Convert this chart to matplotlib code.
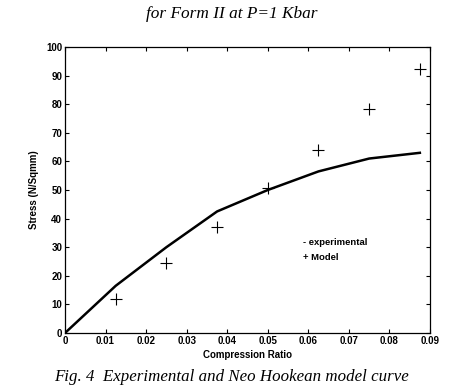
import matplotlib
matplotlib.use("Agg")
import matplotlib.pyplot as plt
import numpy as np

# Data
exp_x = [0.0125, 0.025, 0.0375, 0.05, 0.0625, 0.075, 0.0875]
exp_y = [12, 24.5, 37, 50.7, 64, 78.3, 92.3]
model_x = [0, 0.0125, 0.025, 0.0375, 0.05, 0.0625, 0.075, 0.0875]
model_y = [0, 16.5, 30, 42.5, 50, 56.5, 61, 63]
xticks = [0, 0.01, 0.02, 0.03, 0.04, 0.05, 0.06, 0.07, 0.08, 0.09]
xticklabels = ["0", "0.01", "0.02", "0.03", "0.04", "0.05", "0.06", "0.07", "0.08", "0.09"]
yticks = [0, 10, 20, 30, 40, 50, 60, 70, 80, 90, 100]

fig = plt.figure(figsize=(4.74, 3.86), dpi=100)
ax = fig.add_axes([65/474, 53/386, 365/474, 286/386])

ax.plot(model_x, model_y, color="black", linewidth=1.8)
ax.plot(exp_x, exp_y, linestyle="none", marker="+", color="black",
        markersize=9, markeredgewidth=0.8)

ax.set_xlim(0, 0.09)
ax.set_ylim(0, 100)
ax.set_xticks(xticks)
ax.set_xticklabels(xticklabels)
ax.set_yticks(yticks)
ax.tick_params(direction="in", top=True, right=True, length=3, width=0.8,
               labelsize=7, pad=2)
for lab in ax.get_xticklabels() + ax.get_yticklabels():
    lab.set_fontfamily("Liberation Sans")
    lab.set_fontweight("bold")
for s in ax.spines.values():
    s.set_linewidth(0.9)

ax.set_xlabel("Compression Ratio", fontsize=7, fontweight="bold",
              family="Liberation Sans", labelpad=3)
ax.set_ylabel("Stress (N/Sqmm)", fontsize=7, fontweight="bold",
              family="Liberation Sans", labelpad=5)

ax.text(0.0588, 31.5, "- experimental", fontsize=6.8, fontweight="bold",
        family="Liberation Sans", ha="left", va="center")
ax.text(0.0588, 26.3, "+ Model", fontsize=6.8, fontweight="bold",
        family="Liberation Sans", ha="left", va="center")

fig.text(232/474, 1 - 14/386, "for Form II at P=1 Kbar", fontsize=12.4,
         family="Liberation Serif", style="italic", ha="center", va="center")
fig.text(231/474, 1 - 377/386, "Fig. 4  Experimental and Neo Hookean model curve",
         fontsize=12.2, family="Liberation Serif", style="italic",
         ha="center", va="center")

fig.savefig("out.png", dpi=100)
